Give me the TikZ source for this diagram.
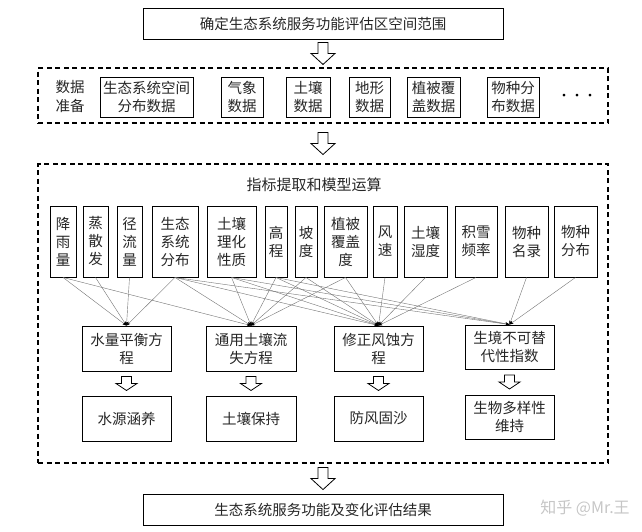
\documentclass[tikz,border=0pt]{standalone}
\usepackage{fontspec}
\setmainfont{Noto Sans CJK SC}
\usetikzlibrary{arrows.meta,calc}

\tikzset{
  box/.style={draw, line width=0.9pt, align=center, inner sep=1pt,
    text=black!85, font=\fontsize{14.5}{18}\selectfont},
  dashbox/.style={draw, line width=1.1pt, dash pattern=on 5pt off 3.5pt},
  link/.style={draw=black!55, line width=0.4pt,
    -{Stealth[length=4pt,width=3pt,color=black]}},
  pics/bigarrow/.style={code={
    \draw[line width=0.8pt, fill=white] (-5,-11) -- (5,-11) -- (5,0) -- (12,0)
      -- (0,11) -- (-12,0) -- (-5,0) -- cycle;}},
  pics/smallarrow/.style={code={
    \draw[line width=0.8pt, fill=white] (-5,-7) -- (5,-7) -- (5,0) -- (10.5,0)
      -- (0,7) -- (-10.5,0) -- (-5,0) -- cycle;}},
}

\begin{document}
\begin{tikzpicture}[x=1pt, y=-1pt]
  \useasboundingbox (0,0) rectangle (642,531);
  % Start and end
  \node[box, minimum width=360, minimum height=31] (scope) at (323,23.5)
    {确定生态系统服务功能评估区空间范围};
  \node[box, minimum width=360, minimum height=31] (result) at (323,509.5)
    {生态系统服务功能及变化评估结果};
  % Dashed frames
  \node[dashbox, minimum width=570, minimum height=55] (prep) at (323,95.5) {};
  \node[dashbox, minimum width=570, minimum height=299] (calc) at (323,313.5) {};
  \pic at ($(scope.south)!0.5!(prep.north)$) {bigarrow};
  \pic at ($(prep.south)!0.5!(calc.north)$) {bigarrow};
  \pic at ($(calc.south)!0.5!(result.north)$) {bigarrow};
  % Data preparation
  \node[align=center, text=black!85, font=\fontsize{14.5}{19}\selectfont]
    (prephead) at (70,96) {数据\\准备};
  \foreach \n/\x/\w/\t in {eco/146.5/93/{生态系统空间\\分布数据},
      met/242/42/{气象\\数据}, soil/308/44/{土壤\\数据},
      dem/369.5/41/{地形\\数据}, veg/433.5/53/{植被覆\\盖数据},
      spec/513/52/{物种分\\布数据}} {
    \node[box, minimum width=\w, minimum height=40] (\n) at (\x,97) {\t};
  }
  \node[font=\fontsize{13}{13}\selectfont] (more) at (577,97) {•••};
  % Indicators
  \node[text=black!85, font=\fontsize{15}{18}\selectfont] (calchead) at (314,185)
    {指标提取和模型运算};
  \foreach \n/\x/\w/\t in {jyl/63/26/{降\\雨\\量}, zsf/95.5/25/{蒸\\散\\发},
      jll/129.5/25/{径\\流\\量}, stxt/175/46/{生态\\系统\\分布},
      trlh/231.5/49/{土壤\\理化\\性质}, gc/276/22/{高\\程},
      pd/306/22/{坡\\度}, zbfg/345.5/43/{植被\\覆盖\\度},
      fs/385/24/{风\\速}, trsd/425.5/43/{土壤\\湿度},
      jxpl/476/42/{积雪\\频率}, wzml/526.5/43/{物种\\名录},
      wzfb/575.5/43/{物种\\分布}} {
    \node[box, minimum width=\w, minimum height=71] (\n) at (\x,241.5) {\t};
  }
  % Models
  \node[box, minimum width=89, minimum height=45] (slph) at (126.5,348.5)
    {水量平衡方\\程};
  \node[box, minimum width=90, minimum height=45] (usle) at (251,348.5)
    {通用土壤流\\失方程};
  \node[box, minimum width=89, minimum height=45] (rweq) at (378.5,348.5)
    {修正风蚀方\\程};
  \node[box, minimum width=89, minimum height=44] (hab) at (509.5,347)
    {生境不可替\\代性指数};
  % Services
  \node[box, minimum width=89, minimum height=45] (water) at (126.5,418.5)
    {水源涵养};
  \node[box, minimum width=90, minimum height=45] (keep) at (251,418.5)
    {土壤保持};
  \node[box, minimum width=89, minimum height=45] (sand) at (378.5,418.5)
    {防风固沙};
  \node[box, minimum width=89, minimum height=44] (bio) at (509.5,417)
    {生物多样性\\维持};
  \foreach \a/\b in {slph/water, usle/keep, rweq/sand, hab/bio} {
    \pic at ($(\a.south)!0.5!(\b.north)$) {smallarrow};
  }
  % Links
  \foreach \s in {jyl,zsf,jll,stxt}
    \draw[link] (\s.south) -- (slph.north);
  \foreach \s in {jyl,stxt,trlh,gc,pd,zbfg}
    \draw[link] (\s.south) -- (usle.north);
  \foreach \s in {stxt,trlh,gc,pd,zbfg,fs,trsd,jxpl}
    \draw[link] (\s.south) -- (rweq.north);
  \foreach \s in {stxt,trlh,gc,wzml,wzfb}
    \draw[link] (\s.south) -- (hab.north);
  % Watermark
  \node[text=gray!45, font=\fontsize{16}{18}\selectfont] (mark) at (585,508)
    {知乎 @Mr.王};
\end{tikzpicture}
\end{document}
